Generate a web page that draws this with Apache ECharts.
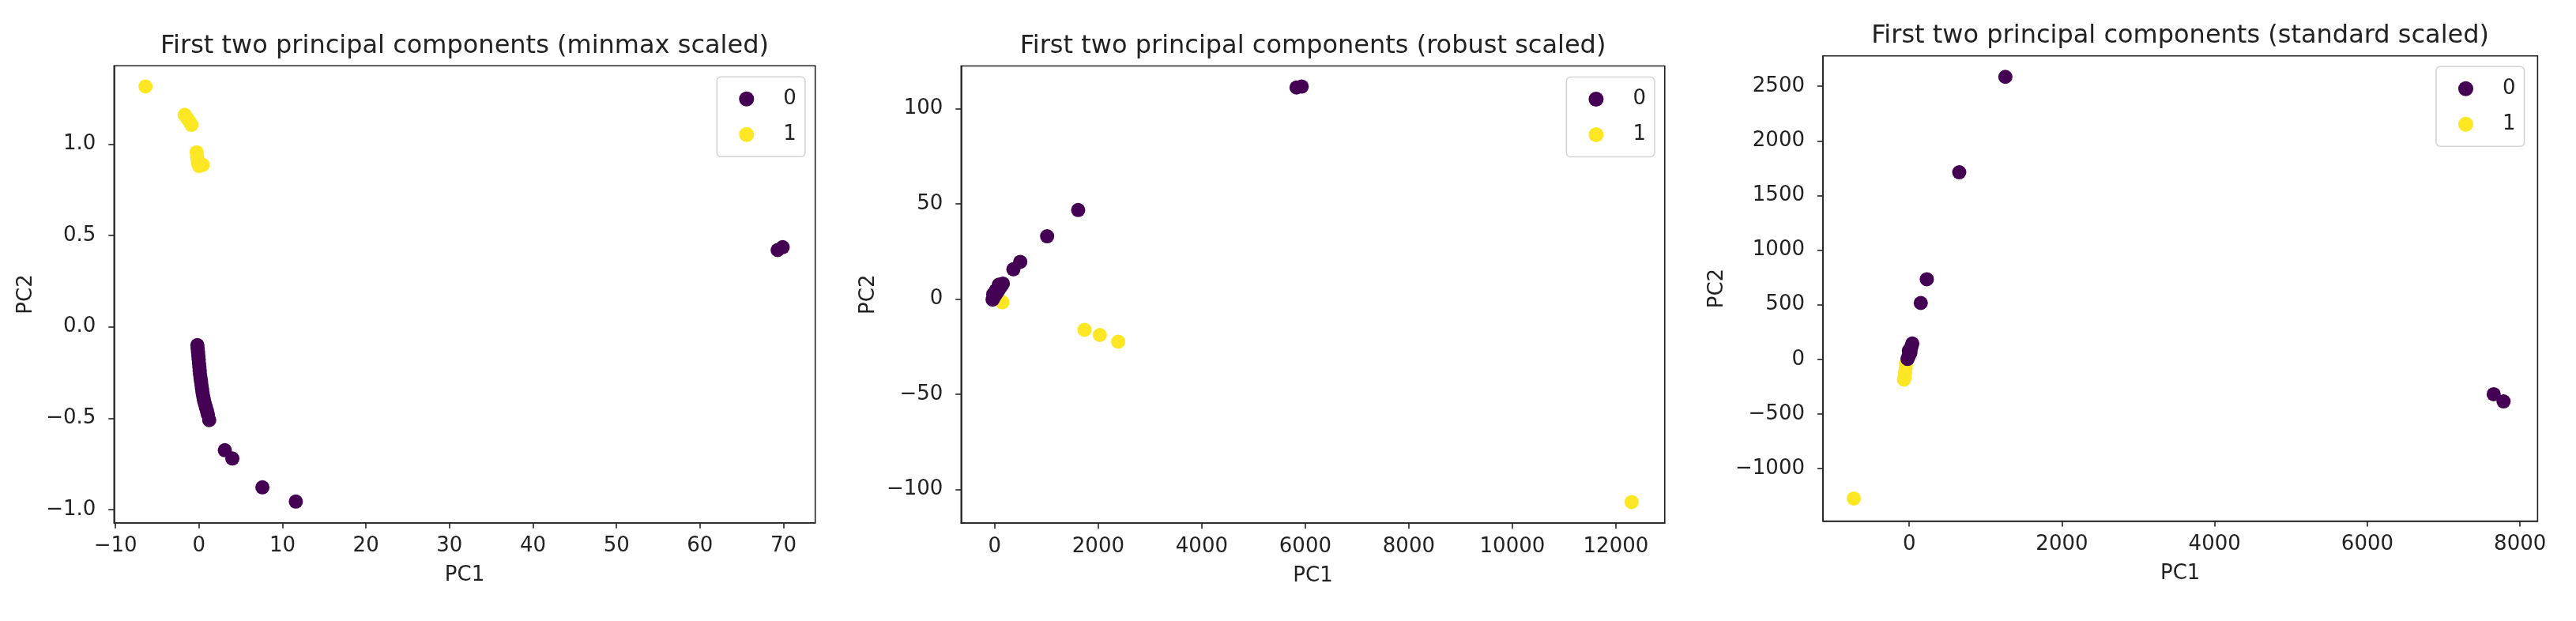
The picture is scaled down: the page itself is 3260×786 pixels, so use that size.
<!DOCTYPE html>
<html>
<head>
<meta charset="utf-8">
<script src="https://cdn.jsdelivr.net/npm/echarts@6/dist/echarts.min.js"></script>
<style>
html,body{margin:0;padding:0;background:#fff;}
#chart{width:3260px;height:786px;}
</style>
</head>
<body>
<div id="chart"></div>
<script>
// ---------- data ----------
const panelTitles = [
  'First two principal components (minmax scaled)',
  'First two principal components (robust scaled)',
  'First two principal components (standard scaled)'
];
const classNames = ['0', '1'];

// minmax scaled
const minmaxClass0 = [
  [-0.19,-0.10],[-0.15,-0.12],[-0.11,-0.14],[-0.07,-0.16],[-0.03,-0.18],[0.01,-0.20],
  [0.05,-0.22],[0.09,-0.24],[0.13,-0.26],[0.19,-0.28],[0.25,-0.30],[0.31,-0.32],
  [0.37,-0.34],[0.43,-0.36],[0.51,-0.38],[0.59,-0.40],[0.71,-0.42],[0.83,-0.44],
  [0.95,-0.46],[1.07,-0.48],[1.23,-0.51],
  [3.1,-0.675],[4.0,-0.72],[7.6,-0.878],[11.6,-0.956],
  [69.3,0.42],[69.9,0.436]
];
const minmaxClass1 = [
  [-6.4,1.315],[-1.7,1.16],[-1.4,1.14],[-1.1,1.12],[-0.9,1.105],
  [-0.28,0.955],[-0.22,0.93],[-0.15,0.91],[-0.08,0.89],[0.0,0.88],[0.45,0.886]
];

// robust scaled
const robustClass0 = [
  [5830,111],[5930,111.5],[1612,46.7],[1012,32.9],[493,19.5],[360,15.6],
  [157,8.1],[130,7],[100,5.8],[70,4.5],[40,3.2],[10,2],[-20,0.8],[-41,-0.3],
  [-30,2.5],[20,4.5],[80,7.5]
];
const robustClass1 = [
  [147,-1.7],[1734,-16.2],[2030,-18.9],[2385,-22.4],[12305,-106.6]
];

// standard scaled
const standardClass0 = [
  [1259,2586],[655,1712],[230,733],[151,516],[7655,-319],[7784,-385],
  [40,145],[30,120],[20,95],[10,70],[0,45],[-10,25],[-22,4],[15,60],[-5,80]
];
const standardClass1 = [
  [-42,-40],[-47,-80],[-53,-120],[-60,-155],[-68,-185],[-726,-1273]
];

// axis ranges and ticks
const xRanges = [[-10.17, 73.8], [-650, 12945], [-1130, 8230]];
const yRanges = [[-1.072, 1.428], [-117.6, 122.3], [-1480, 2778]];
const xTicks = [
  [-10, 0, 10, 20, 30, 40, 50, 60, 70],
  [0, 2000, 4000, 6000, 8000, 10000, 12000],
  [0, 2000, 4000, 6000, 8000]
];
const yTicks = [
  [-1.0, -0.5, 0.0, 0.5, 1.0],
  [-100, -50, 0, 50, 100],
  [-1000, -500, 0, 500, 1000, 1500, 2000, 2500]
];
const yDecimals = [1, 0, 0];

// ---------- layout / style ----------
const FONT = 'DejaVu Sans';
const INK = '#222';
const C0 = '#440154';
const C1 = '#fde725';
const grids = [
  {left:144.3, top:83.3, right:1031.7, bottom:661.7},
  {left:1216.3, top:83.5, right:2106.8, bottom:662.0},
  {left:2307.0, top:70.7, right:3211.4, bottom:659.5}
];
const yNameGaps = [98, 104, 121];
const legendPos = [
  {left:907.3, top:97.3},
  {left:1982.4, top:97.5},
  {left:3083.0, top:84.2}
];

const fmtMinus = s => s.replace('-', '\u2212');

const option = {
  animation: false,
  backgroundColor: '#fff',
  textStyle: {fontFamily: FONT},
  title: grids.map((g, i) => ({
    text: panelTitles[i],
    left: (g.left + g.right) / 2,
    top: g.top - 41,
    padding: 0,
    textAlign: 'center',
    textVerticalAlign: 'top',
    textStyle: {fontFamily: FONT, fontSize: 32, fontWeight: 'normal', color: INK, lineHeight: 32}
  })),
  legend: legendPos.map(p => ({
    data: classNames,
    left: p.left,
    top: p.top,
    orient: 'vertical',
    icon: 'circle',
    itemWidth: 19,
    itemHeight: 19,
    itemGap: 19,
    padding: [15, 11, 15, 28],
    borderColor: '#d4d4d4',
    borderWidth: 1.6,
    borderRadius: 5,
    backgroundColor: 'rgba(255,255,255,0.8)',
    selectedMode: false,
    textStyle: {fontFamily: FONT, fontSize: 26, color: INK, lineHeight: 19, padding: [0, 0, 0, 32]}
  })),
  grid: grids.map(g => ({
    left: g.left, top: g.top, width: g.right - g.left, height: g.bottom - g.top,
    show: true, borderColor: INK, borderWidth: 1.6, backgroundColor: 'transparent',
    containLabel: false
  })),
  xAxis: grids.map((g, i) => ({
    gridIndex: i, type: 'value',
    min: xRanges[i][0], max: xRanges[i][1],
    axisLine: {show: true, onZero: false, lineStyle: {color: INK, width: 1.6}},
    axisTick: {show: true, length: 7, customValues: xTicks[i], lineStyle: {color: INK, width: 1.6}},
    axisLabel: {customValues: xTicks[i], fontSize: 26, color: INK, fontFamily: FONT, margin: 17,
      formatter: v => fmtMinus(String(Math.round(v)))},
    splitLine: {show: false},
    name: 'PC1', nameLocation: 'middle', nameGap: 54,
    nameTextStyle: {fontSize: 26, color: INK, fontFamily: FONT}
  })),
  yAxis: grids.map((g, i) => ({
    gridIndex: i, type: 'value',
    min: yRanges[i][0], max: yRanges[i][1],
    axisLine: {show: true, onZero: false, lineStyle: {color: INK, width: 1.6}},
    axisTick: {show: true, length: 7, customValues: yTicks[i], lineStyle: {color: INK, width: 1.6}},
    axisLabel: {customValues: yTicks[i], fontSize: 26, color: INK, fontFamily: FONT, margin: 23,
      formatter: v => fmtMinus(Number(v).toFixed(yDecimals[i]))},
    splitLine: {show: false},
    name: 'PC2', nameLocation: 'middle', nameGap: yNameGaps[i],
    nameTextStyle: {fontSize: 26, color: INK, fontFamily: FONT}
  })),
  series: []
};

const panelData = [
  [minmaxClass0, minmaxClass1],
  [robustClass0, robustClass1],
  [standardClass0, standardClass1]
];
panelData.forEach((pair, i) => {
  // class 1 drawn first so class 0 sits on top (as in the reference)
  option.series.push({
    type: 'scatter', name: classNames[1], xAxisIndex: i, yAxisIndex: i,
    data: pair[1], symbol: 'circle', symbolSize: 18, z: 2,
    itemStyle: {color: C1, opacity: 1}, emphasis: {disabled: true}
  });
  option.series.push({
    type: 'scatter', name: classNames[0], xAxisIndex: i, yAxisIndex: i,
    data: pair[0], symbol: 'circle', symbolSize: 18, z: 3,
    itemStyle: {color: C0, opacity: 1}, emphasis: {disabled: true}
  });
});

const chart = echarts.init(document.getElementById('chart'), null, {renderer: 'canvas'});
chart.setOption(option);
</script>
</body>
</html>
